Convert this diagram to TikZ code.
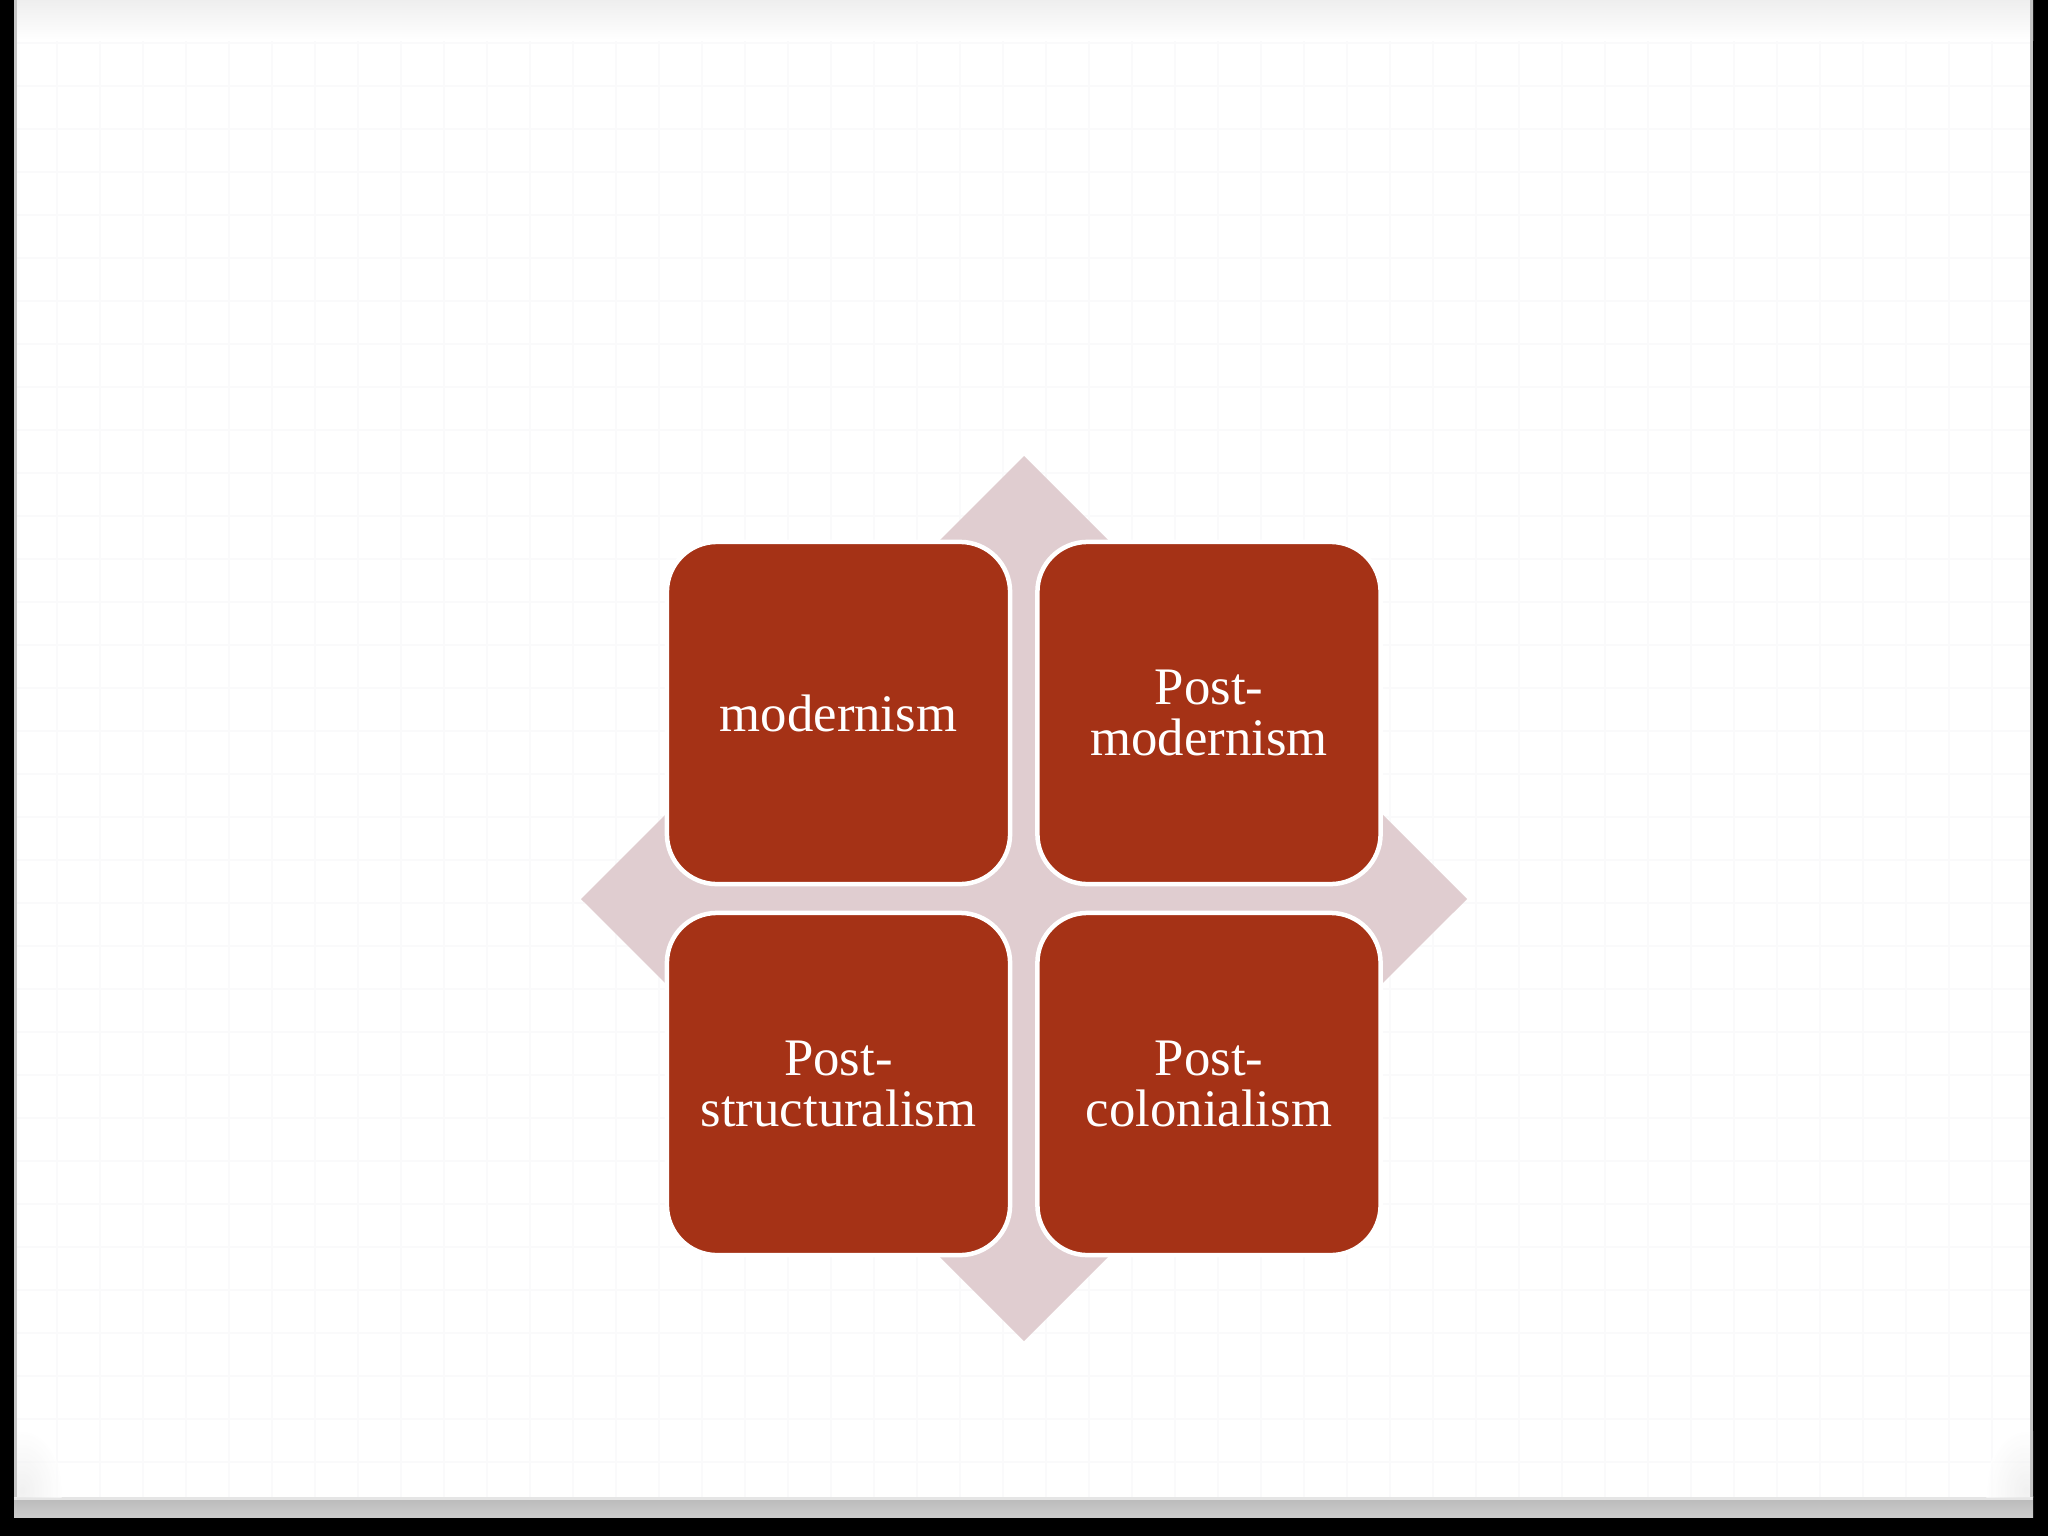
\documentclass[tikz,border=0pt]{standalone}
\usepackage{fontspec}
\setmainfont{Liberation Serif}
\definecolor{boxred}{RGB}{165,50,22}
\definecolor{diam}{RGB}{224,205,208}
\definecolor{gridc}{RGB}{250,250,251}
\begin{document}
\begin{tikzpicture}[x=0.01cm,y=-0.01cm,
  tile/.style={draw=white, line width=0.045cm, fill=boxred, rounded corners=0.5cm,
    minimum width=3.43cm, minimum height=3.42cm, text=white,
    font=\fontsize{15}{14.5}\selectfont, align=center, inner sep=0pt}]
\useasboundingbox (0,0) rectangle (2048,1536);
% frame
\fill[black] (0,0) rectangle (2048,1536);
\shade[top color=gray!55, bottom color=gray!40] (14,1496) rectangle (2033,1517);
\fill[gray!20] (14,1496) rectangle (2033,1500);
\fill[white] (14,0) rectangle (2033,1497);
\begin{scope}
  \clip (14,0) rectangle (2033,1497);
  \foreach \x in {57,100,...,2033} \draw[gridc, line width=0.4pt] (\x,0) -- (\x,1497);
  \foreach \y in {43,86,...,1497} \draw[gridc, line width=0.4pt] (14,\y) -- (2033,\y);
  \shade[top color=gray!13, bottom color=white] (14,0) rectangle (2033,40);
  \shade[inner color=gray!18, outer color=white, opacity=0.6] (22,1490) ellipse (40 and 60);
  \shade[inner color=gray!18, outer color=white, opacity=0.6] (2026,1490) ellipse (40 and 60);
\end{scope}
\fill[gray!45] (14,0) rectangle (17,1497);
\fill[gray!45] (2030,0) rectangle (2033,1497);
% diamond
\fill[diam] (1024,456) -- (1467,899) -- (1024,1341) -- (581,899) -- cycle;
% tiles
\node[tile] (mod) at (838.5,713) {modernism};
\node[tile] (pmod) at (1209,713) {Post-\\modernism};
\node[tile] (pstr) at (838.5,1084) {Post-\\structuralism};
\node[tile] (pcol) at (1209,1084) {Post-\\colonialism};
\end{tikzpicture}
\end{document}
